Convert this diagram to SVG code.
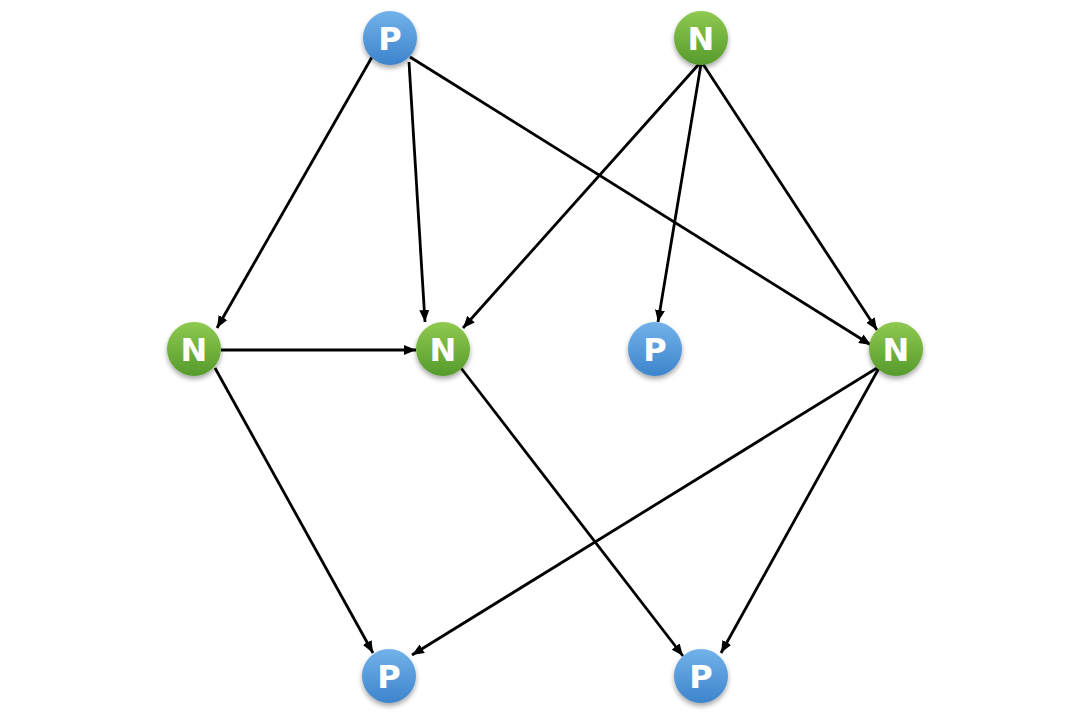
<svg xmlns="http://www.w3.org/2000/svg" width="1090" height="726" viewBox="0 0 1090 726">
<defs>
<linearGradient id="gb" x1="0" y1="0" x2="0" y2="1"><stop offset="0" stop-color="#72b2ea"/><stop offset="1" stop-color="#3d84cc"/></linearGradient>
<linearGradient id="gg" x1="0" y1="0" x2="0" y2="1"><stop offset="0" stop-color="#8fc950"/><stop offset="1" stop-color="#569b2c"/></linearGradient>
<filter id="sh" x="-30%" y="-30%" width="160%" height="170%"><feDropShadow dx="0" dy="3" stdDeviation="2.5" flood-color="#000" flood-opacity="0.35"/></filter>
<marker id="ar" viewBox="0 0 12 10" refX="12" refY="5" markerWidth="12" markerHeight="10" markerUnits="userSpaceOnUse" orient="auto"><path d="M0,0 L12,5 L0,10 z" fill="#000"/></marker>
<style>
.e{stroke:#000;stroke-width:2.8;fill:none;marker-end:url(#ar)}
.p{fill:url(#gb);filter:url(#sh)}
.n{fill:url(#gg);filter:url(#sh)}
.t{fill:#fff;font-family:"DejaVu Sans","Liberation Sans",sans-serif;font-weight:bold;font-size:32px;text-anchor:middle}
</style>
</defs>
<rect width="1090" height="726" fill="#fff"/>
<g id="connectors">
<line class="e" x1="372" y1="57" x2="217" y2="328"/>
<line class="e" x1="409" y1="62" x2="425" y2="322"/>
<line class="e" x1="410" y1="57" x2="871" y2="345"/>
<line class="e" x1="699" y1="64" x2="463" y2="328"/>
<line class="e" x1="701" y1="64" x2="658" y2="322"/>
<line class="e" x1="703" y1="64" x2="877" y2="330"/>
<line class="e" x1="221" y1="350" x2="416" y2="350"/>
<line class="e" x1="215" y1="368" x2="373" y2="653"/>
<line class="e" x1="461" y1="368" x2="683" y2="656"/>
<line class="e" x1="877" y1="368" x2="412" y2="655"/>
<line class="e" x1="879" y1="368" x2="721" y2="653"/>
</g>
<g id="p1"><circle class="p" cx="390" cy="38" r="27"/><text class="t" x="390" y="50">P</text></g>
<g id="n0"><circle class="n" cx="701" cy="38" r="27"/><text class="t" x="701" y="50">N</text></g>
<g id="n1"><circle class="n" cx="194" cy="349" r="27"/><text class="t" x="194" y="361">N</text></g>
<g id="n2"><circle class="n" cx="443" cy="349" r="27"/><text class="t" x="443" y="361">N</text></g>
<g id="p2"><circle class="p" cx="655" cy="349" r="27"/><text class="t" x="655" y="361">P</text></g>
<g id="n4"><circle class="n" cx="896" cy="349" r="27"/><text class="t" x="896" y="361">N</text></g>
<g id="p3"><circle class="p" cx="389" cy="676" r="27"/><text class="t" x="389" y="688">P</text></g>
<g id="p4"><circle class="p" cx="701" cy="676" r="27"/><text class="t" x="701" y="688">P</text></g>
</svg>
